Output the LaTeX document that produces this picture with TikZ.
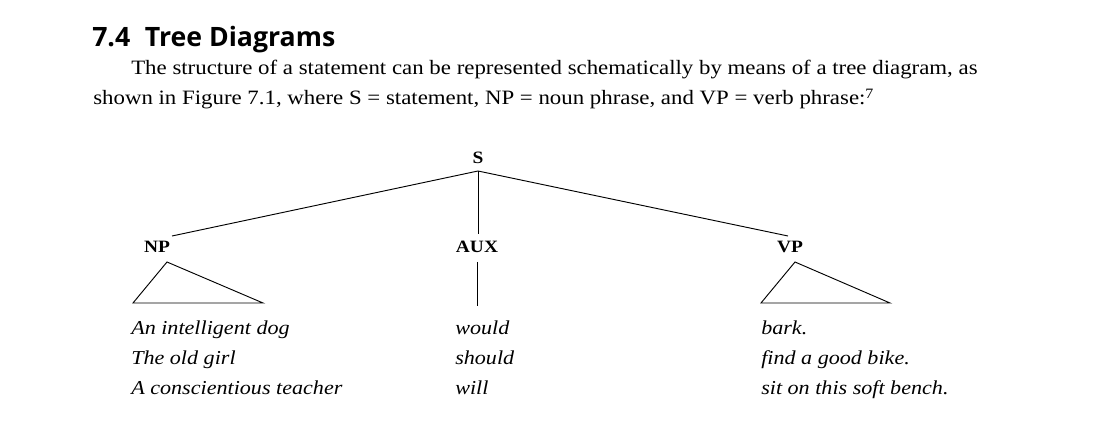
\documentclass[tikz,border=0pt]{standalone}
\usepackage{fontspec}
\setmainfont{Liberation Serif}[FakeStretch=1.12]
\newfontfamily\headfont{Open Sans}
\begin{document}
\begin{tikzpicture}[x=0.75pt,y=-0.75pt,
  body/.style={anchor=base west,inner sep=0pt,font=\fontsize{15.3}{17}\selectfont},
  lab/.style={inner sep=0pt,font=\bfseries\fontsize{13}{15}\selectfont},
  ex/.style={anchor=base west,inner sep=0pt,font=\itshape\fontsize{14.8}{17}\selectfont},
  edge/.style={line width=0.7pt}]
\useasboundingbox[fill=white] (0,0) rectangle (1093,434);
\node[anchor=base west,inner sep=0pt,font=\headfont\bfseries\fontsize{20}{22}\selectfont] (h) at (92,47) {7.4\hspace{11pt}Tree Diagrams};
\node[body] (p1) at (131,75) {The structure of a statement can be represented schematically by means of a tree diagram, as};
\node[body] (p2) at (93,105) {shown in Figure 7.1, where S = statement, NP = noun phrase, and VP = verb phrase:\textsuperscript{7}};
\node[lab] (S) at (478,158) {S};
\node[lab] (NP) at (157,247) {NP};
\node[lab] (AUX) at (477,247) {AUX};
\node[lab] (VP) at (790,247) {VP};
\coordinate (sb) at (478,171);
\coordinate (npt) at (172,236);
\coordinate (auxt) at (478,234);
\coordinate (vpt) at (788,236);
\draw[edge] (npt) -- (sb) -- (vpt);
\draw[edge] (sb) -- (auxt);
\coordinate (na) at (167,262); \coordinate (nl) at (133,303); \coordinate (nr) at (263,303);
\draw[edge] (na) -- (nl) -- (nr) -- cycle;
\coordinate (a1) at (477,262); \coordinate (a2) at (477,306);
\draw[edge] (a1) -- (a2);
\coordinate (va) at (795,262); \coordinate (vl) at (761,303); \coordinate (vr) at (890,303);
\draw[edge] (va) -- (vl) -- (vr) -- cycle;
\node[ex] (n1) at (131,335) {An intelligent dog};
\node[ex] (n2) at (131,365) {The old girl};
\node[ex] (n3) at (131,395) {A conscientious teacher};
\node[ex] (x1) at (455,335) {would};
\node[ex] (x2) at (455,365) {should};
\node[ex] (x3) at (455,395) {will};
\node[ex] (v1) at (761,335) {bark.};
\node[ex] (v2) at (761,365) {find a good bike.};
\node[ex] (v3) at (761,395) {sit on this soft bench.};
\end{tikzpicture}
\end{document}
